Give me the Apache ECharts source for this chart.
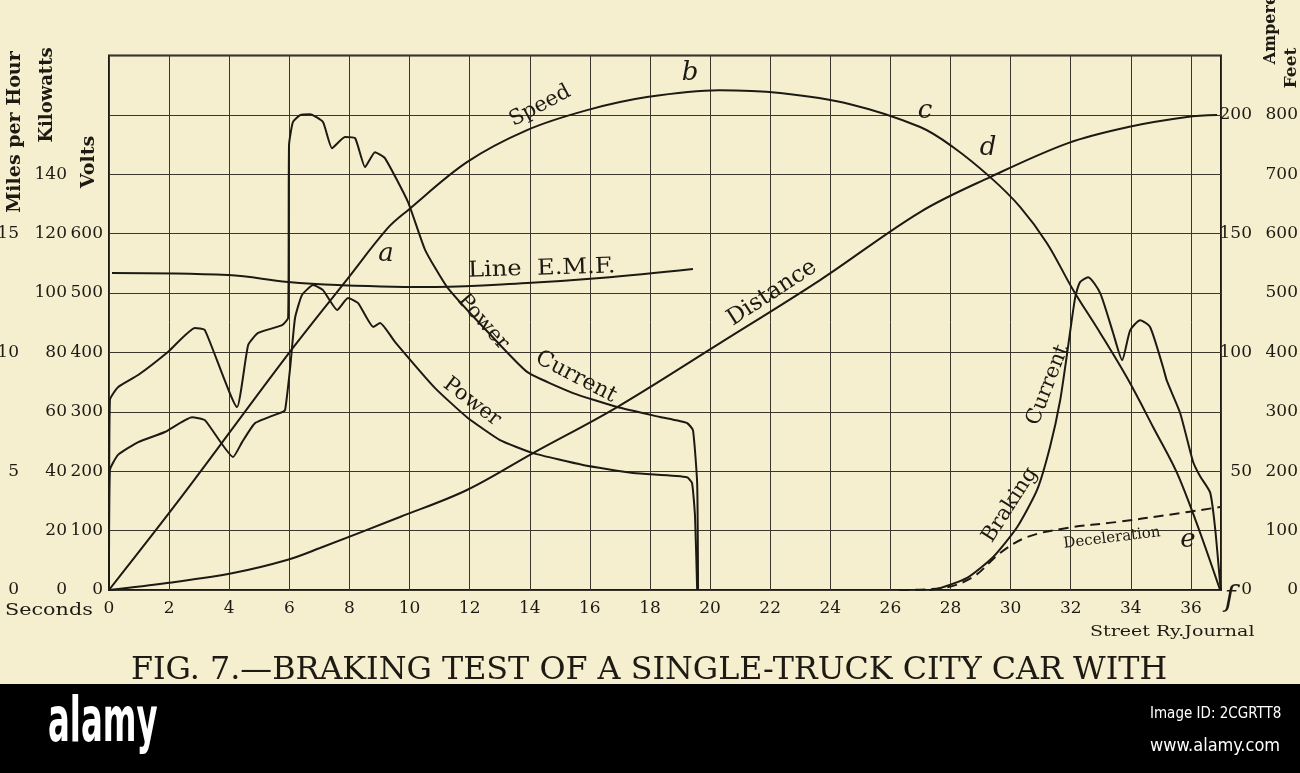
<!DOCTYPE html>
<html><head><meta charset="utf-8">
<script src="https://cdn.jsdelivr.net/npm/echarts@6/dist/echarts.min.js"></script>
<style>html,body{margin:0;padding:0;background:#f6efcf;}#c{width:1300px;height:773px;}</style>
</head><body><div id="c"></div>
<script>
// ---- data (time in seconds) ----
const speedMph = [[0,0],[2.46,4.0],[5.86,9.76],[7.85,12.96],[9.28,15.24],[9.95,15.99],[11.91,18.01],[13.91,19.36],[15.91,20.20],[17.90,20.75],[20.30,21.04],[22.33,20.92],[24.66,20.45],[26.99,19.49],[28.09,18.64],[29.32,17.38],[30.32,16.12],[31.21,14.60],[32.08,12.63],[32.98,10.82],[33.88,8.92],[34.74,6.86],[35.64,4.63],[36.97,0]];
const distanceFt = [[0,0],[1.93,11.8],[4.13,28.6],[5.92,50.5],[7.02,70.7],[9.68,122.9],[11.91,168.4],[14.11,230.6],[16.91,308.1],[20.33,415.8],[23.66,521.9],[26.99,636.4],[29.32,695.3],[31.91,752.5],[33.91,779.5],[35.87,796.3],[36.87,799.7]];
const lineEmfV = [[0.1,533.7],[3.96,530.3],[5.96,518.5],[7.62,513.5],[10.85,510.1],[13.91,516.8],[16.34,525.3],[19.43,540.4]];
const powerCurrentA = [[0,0],[0.03,80.0],[0.30,85.4],[0.97,90.5],[1.96,100.2],[2.86,110.3],[3.19,109.4],[4.26,77.0],[4.63,103.1],[4.96,108.2],[5.76,111.5],[5.96,114.5],[5.99,187.3],[6.12,197.0],[6.36,199.9],[6.69,200.3],[7.12,197.0],[7.42,186.0],[7.85,190.7],[8.19,190.2],[8.52,178.0],[8.85,184.3],[9.18,181.8],[9.95,163.3],[10.52,143.1],[11.25,127.5],[12.45,110.7],[13.91,91.8],[15.44,82.9],[16.91,77.0],[18.34,72.8],[19.23,70.3],[19.43,67.3],[19.57,45.0],[19.60,0]];
const powerKw = [[0,0],[0.03,40.4],[0.30,45.5],[0.97,49.8],[1.86,53.2],[2.76,58.2],[3.19,57.2],[4.13,44.8],[4.43,49.8],[4.86,56.2],[5.76,59.9],[5.86,60.6],[6.02,74.1],[6.19,91.6],[6.42,99.3],[6.79,102.7],[7.12,101.0],[7.59,94.3],[7.95,98.3],[8.29,96.6],[8.79,88.6],[9.02,89.9],[9.52,83.5],[10.85,68.0],[11.91,58.2],[13.01,50.5],[14.11,46.1],[15.77,42.1],[17.44,39.4],[19.23,38.0],[19.40,36.0],[19.50,24.6],[19.57,0]];
const brakingCurrentA = [[27.3,0],[27.65,0.8],[28.55,5.1],[29.42,13.9],[30.22,26.5],[30.88,42.1],[31.31,60.2],[31.65,80.0],[31.91,102.3],[32.15,123.3],[32.31,129.6],[32.58,131.7],[32.98,125.0],[33.41,108.2],[33.71,96.8],[33.98,109.4],[34.31,113.6],[34.64,110.7],[35.07,93.9],[35.2,88.0],[35.64,74.5],[36.07,54.0],[36.3,48.0],[36.64,41.0],[36.81,25.3],[36.97,2.9],[37,0]];
const decelerationRel = [[26.3,0],[27.75,3.4],[28.75,21.9],[29.65,62.3],[30.55,89.2],[31.88,104.4],[33.54,114.5],[35.21,126.3],[36.97,139.7]];
const voltTicksMax = 600, kwTicksMax = 140, mphTicksMax = 15, ampTicksMax = 200, feetTicksMax = 800;

const INK = '#1d1a14';
const SERIF = '"DejaVu Serif", "Liberation Serif", serif';
const chart = echarts.init(document.getElementById('c'), null, {renderer:'canvas'});

function yAx(o){
  return Object.assign({
    type:'value', min:0, axisLine:{show:false}, axisTick:{show:false}, splitLine:{show:false},
    axisLabel:{color:INK, fontFamily:SERIF, fontSize:17, margin:6}
  }, o);
}
const txt = (text, x, y, opt) => ({
  type:'text', x, y, rotation:(opt&&opt.rot)||0, z:(opt&&opt.z)||20, scaleX:(opt&&opt.sx)||1,
  style:{text, fill:(opt&&opt.fill)||INK, fontFamily:(opt&&opt.ff)||SERIF, fontSize:(opt&&opt.fs)||20,
    fontStyle:(opt&&opt.it)?'italic':'normal', fontWeight:(opt&&opt.bold)?'bold':'normal',
    align:(opt&&opt.align)||'center', verticalAlign:'middle'}
});

const lineS = (name, data, yi, extra) => Object.assign({
  name, type:'line', data, yAxisIndex:yi, symbol:'none', showSymbol:false,
  lineStyle:{color:INK, width:2}, silent:true, animation:false, z:5
}, extra||{});

chart.setOption({
  backgroundColor:'#f6efcf',
  animation:false,
  grid:{left:109, top:55.5, right:79, bottom:183, show:true, borderColor:INK, borderWidth:2, backgroundColor:'transparent', containLabel:false, outerBoundsMode:'none'},
  xAxis:{type:'value', min:0, max:37, interval:2,
    axisLine:{show:false}, axisTick:{show:false},
    splitLine:{show:true, lineStyle:{color:'#3a362b', width:1}},
    axisLabel:{color:INK, fontFamily:SERIF, fontSize:17, margin:10, showMaxLabel:false,
      formatter:v => v>36 ? '' : String(v)}},
  yAxis:[
    yAx({max:900, interval:100, position:'left', offset:0,
      splitLine:{show:true, lineStyle:{color:'#3a362b', width:1}},
      axisLabel:{color:INK, fontFamily:SERIF, fontSize:17, margin:6, formatter:v => v<=voltTicksMax ? String(v) : ''}}),
    yAx({max:180, interval:20, position:'left', offset:36,
      axisLabel:{color:INK, fontFamily:SERIF, fontSize:17, margin:6, formatter:v => v<=kwTicksMax ? String(v) : ''}}),
    yAx({max:22.5, interval:5, position:'left', offset:84,
      axisLabel:{color:INK, fontFamily:SERIF, fontSize:17, margin:6, formatter:v => v<=mphTicksMax ? String(v) : ''}}),
    yAx({max:225, interval:50, position:'right', offset:0,
      axisLabel:{color:INK, fontFamily:SERIF, fontSize:17, margin:31, align:'right', formatter:v => v<=ampTicksMax ? String(v) : ''}}),
    yAx({max:900, interval:100, position:'right', offset:0,
      axisLabel:{color:INK, fontFamily:SERIF, fontSize:17, margin:77, align:'right', formatter:v => v<=feetTicksMax ? String(v) : ''}}),
    yAx({max:900, interval:100, position:'right', show:false})
  ],
  series:[
    lineS('Speed', speedMph, 2, {smooth:0.35}),
    lineS('Distance', distanceFt, 4, {smooth:0.35}),
    lineS('Line E.M.F.', lineEmfV, 0, {smooth:0.4}),
    lineS('Power Current', powerCurrentA, 3, {smooth:0.15}),
    lineS('Power', powerKw, 1, {smooth:0.15}),
    lineS('Braking Current', brakingCurrentA, 3, {smooth:0.2}),
    lineS('Deceleration', decelerationRel, 5, {smooth:0.35, lineStyle:{color:INK, width:2, type:[10,6]}})
  ],
  graphic:[
    // curve annotations
    txt('Speed', 540, 106, {rot:0.49, fs:21}),
    txt('b', 690, 73, {it:true, fs:26}),
    txt('c', 925, 111, {it:true, fs:26}),
    txt('d', 988, 148, {it:true, fs:26}),
    txt('a', 386, 254, {it:true, fs:26}),
    txt('e', 1188, 540, {it:true, fs:26}),
    txt('f', 1230, 598, {it:true, fs:30}),
    txt('Line  E.M.F.', 468, 271, {rot:0.03, fs:22, sx:1.1, align:'left'}),
    txt('Power', 483, 322, {rot:-0.85, fs:21}),
    txt('Current', 576, 377, {rot:-0.48, fs:22}),
    txt('Power', 472, 402, {rot:-0.65, fs:21}),
    txt('Distance', 772, 293, {rot:0.58, fs:23}),
    txt('Braking', 1010, 505, {rot:1.0, fs:21}),
    txt('Current', 1048, 385, {rot:1.2, fs:21}),
    txt('Deceleration', 1112, 538, {rot:0.12, fs:15}),
    // axis titles
    txt('Miles per Hour', 15, 132, {rot:Math.PI/2, fs:19, bold:true}),
    txt('Kilowatts', 47, 95, {rot:Math.PI/2, fs:18, bold:true}),
    txt('Volts', 89, 162, {rot:Math.PI/2, fs:19, bold:true}),
    txt('Amperes', 1271, 25, {rot:Math.PI/2, fs:16, bold:true}),
    txt('Feet', 1292, 68, {rot:Math.PI/2, fs:17, bold:true}),
    txt('Seconds', 5, 611, {fs:17, sx:1.22, align:'left'}),
    txt('Street Ry.Journal', 1090, 632, {fs:15, sx:1.27, align:'left'}),
    // caption
    txt('FIG. 7.—BRAKING TEST OF A SINGLE-TRUCK CITY CAR WITH', 131, 671, {fs:31, sx:1.025, align:'left', z:30}),
    {type:'rect', z:40, shape:{x:0, y:684, width:1300, height:89}, style:{fill:'#000'}},
    txt('alamy', 48, 725, {fs:62, bold:true, fill:'#fff', align:'left', sx:0.58, ff:'"DejaVu Sans Condensed","Liberation Sans Narrow",sans-serif', z:50}),
    txt('Image ID: 2CGRTT8', 1150, 714, {fs:15, fill:'#fff', align:'left', ff:'"DejaVu Sans Condensed",sans-serif', z:50}),
    txt('www.alamy.com', 1150, 746, {fs:18, fill:'#fff', align:'left', ff:'"DejaVu Sans Condensed",sans-serif', z:50})
  ]
});
</script></body></html>
